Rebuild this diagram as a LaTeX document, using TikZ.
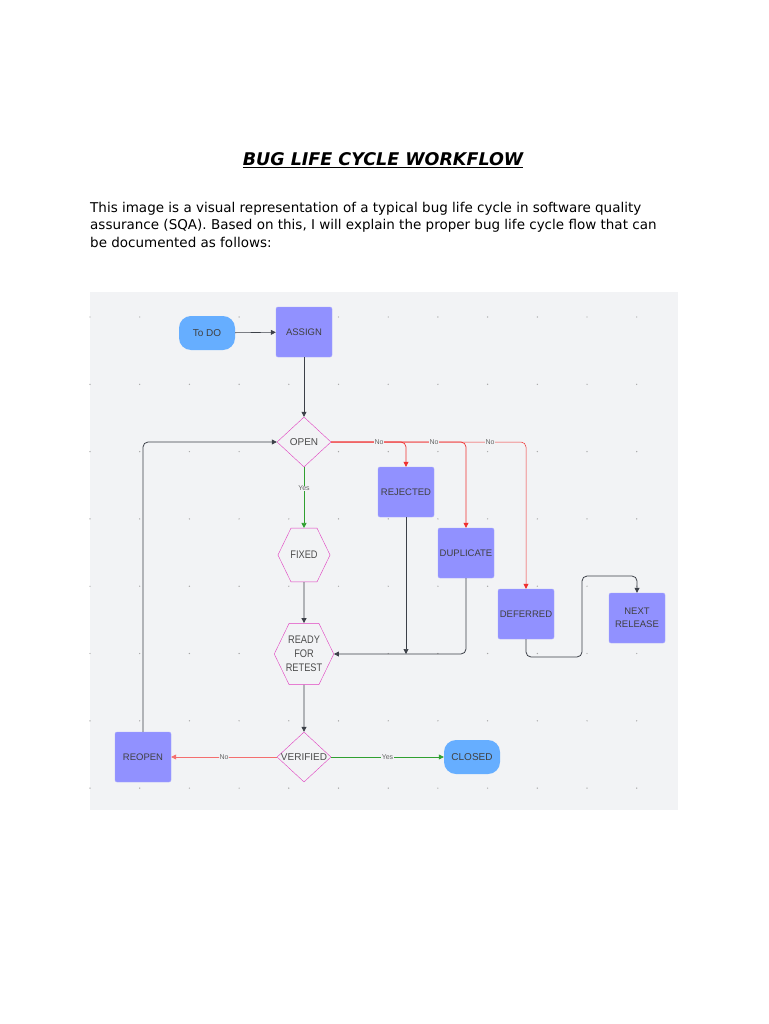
\documentclass[tikz,border=0pt]{standalone}
\usepackage{fontspec}
\setmainfont{DejaVu Sans}
\newfontfamily\boxfont{Liberation Sans}
\usetikzlibrary{shapes.geometric,arrows.meta}
\definecolor{canvas}{HTML}{F2F3F5}
\definecolor{blueish}{HTML}{66AEFF}
\definecolor{violet}{HTML}{9191FF}
\definecolor{pinkline}{HTML}{E040C0}
\definecolor{darkline}{HTML}{3C4048}
\definecolor{noline}{HTML}{F03030}
\definecolor{yesline}{HTML}{30A030}
\tikzset{
  stage/.style={draw=violet!80!white,fill=violet,rounded corners=2pt,minimum width=56pt,minimum height=50pt,inner sep=1pt,align=center,font=\boxfont\fontsize{9.5}{12.5}\selectfont,text=black!75},
  term/.style={fill=blueish,rounded corners=12pt,minimum width=56pt,minimum height=34pt,font=\boxfont\fontsize{10}{11}\selectfont,text=black!75},
  ask/.style={diamond,draw=pinkline,fill=canvas,minimum width=54pt,minimum height=50pt,inner sep=0pt,aspect=1.08,font=\boxfont\fontsize{10}{11}\selectfont,text=black!70},
  hexa/.style={regular polygon,regular polygon sides=6,draw=pinkline,fill=canvas,inner sep=0pt,align=center,xscale=0.84,transform shape,font=\boxfont\fontsize{11}{14}\selectfont,text=black!70},
  flow/.style={draw=darkline,line width=0.8pt,-{Triangle[length=5pt,width=5pt]},rounded corners=5pt},
  nope/.style={draw=noline,line width=0.7pt,-{Triangle[length=5pt,width=5pt]},rounded corners=5pt},
  yep/.style={draw=yesline,line width=0.6pt,-{Triangle[length=5pt,width=5pt]}},
  tag/.style={font=\boxfont\fontsize{7}{8}\selectfont,text=black!60,fill=canvas,inner sep=0.5pt}
}
\begin{document}
\begin{tikzpicture}[x=1pt,y=-1pt]
\useasboundingbox (0,0) rectangle (768,1024);
\node[font=\bfseries\itshape\fontsize{17.5}{20}\selectfont] (title) at (383,160) {\underline{BUG LIFE CYCLE WORKFLOW}};
\node[anchor=north west,inner sep=0pt,align=left,font=\fontsize{13.5}{17.5}\selectfont] (intro) at (90,202)
  {This image is a visual representation of a typical bug life cycle in software quality\\assurance (SQA). Based on this, I will explain the proper bug life cycle flow that can\\be documented as follows:};
% canvas with dots
\fill[canvas] (90,292) rectangle (678,810);
\foreach \i in {0,...,11}
  \foreach \j in {0,...,7}
    \fill[black!35] (90+49.7*\i,317+67.3*\j) circle (0.7pt);
% nodes
\node[term] (todo) at (207,333) {To DO};
\node[stage] (assign) at (304,332) {ASSIGN};
\node[ask] (open) at (304,442) {OPEN};
\node[hexa,minimum size=62pt] (fixed) at (304,555) {FIXED};
\node[hexa,minimum size=70pt] (ready) at (304,654) {READY\\FOR\\RETEST};
\node[ask] (verified) at (304,757) {VERIFIED};
\node[stage] (rejected) at (406,492) {REJECTED};
\node[stage] (duplicate) at (466,553) {DUPLICATE};
\node[stage] (deferred) at (526,614) {DEFERRED};
\node[stage] (next) at (637,618) {NEXT\\RELEASE};
\node[stage] (reopen) at (143,757) {REOPEN};
\node[term] (closed) at (472,757) {CLOSED};
% connectors
\draw[flow,line width=0.6pt] (todo) -- (assign);
\draw[flow,line width=0.6pt] (assign) -- (open);
\draw[yep] (open) -- node[tag,pos=0.35]{Yes} (fixed);
\draw[nope] (open.east) -- (406,442) -- (rejected);
\draw[nope] (open.east) -- (466,442) -- (duplicate);
\draw[nope,line width=0.5pt] (open.east) -- (526,442) -- (deferred);
\node[tag] (no1) at (379,442) {No};
\node[tag] (no2) at (434,442) {No};
\node[tag] (no3) at (490,442) {No};
\draw[flow] (fixed) -- (ready);
\draw[flow,line width=0.6pt] (rejected) -- (406,654);
\draw[flow] (duplicate.south) |- (ready.east);
\draw[flow] (deferred.south) -- (526,657) -- (582,657) -- (582,576) -- (637,576) -- (next.north);
\draw[flow] (ready) -- (verified);
\draw[nope,draw=noline!70] (verified) -- node[tag]{No} (reopen);
\draw[yep] (verified) -- node[tag]{Yes} (closed);
\draw[flow] (reopen.north) -- (143,442) -- (open.west);
\end{tikzpicture}
\end{document}
